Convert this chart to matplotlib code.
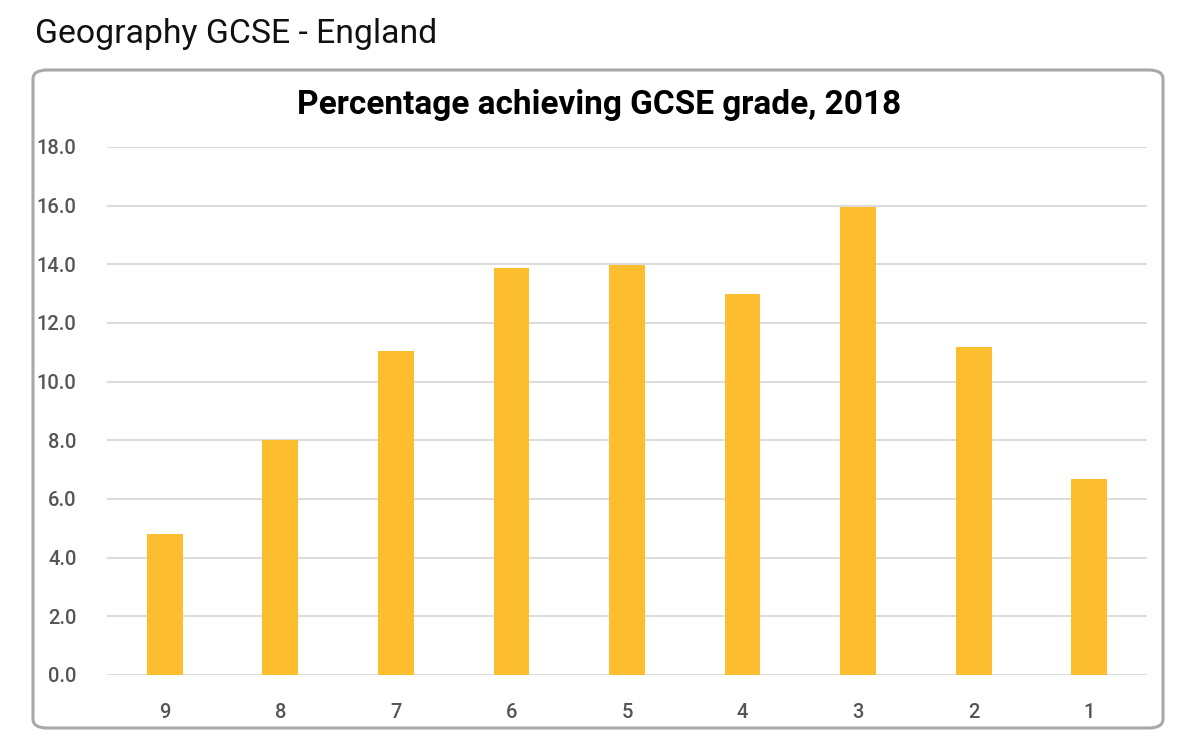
import matplotlib
matplotlib.use("Agg")
import matplotlib.pyplot as plt
from matplotlib.patches import FancyBboxPatch

grades = ["9", "8", "7", "6", "5", "4", "3", "2", "1"]
percentages = [4.8, 8.0, 11.05, 13.88, 13.98, 12.99, 15.96, 11.18, 6.68]
yticks = [0, 2, 4, 6, 8, 10, 12, 14, 16, 18]

plt.rcParams['font.family'] = ['Roboto', 'DejaVu Sans']

W, H = 1200, 747
fig = plt.figure(figsize=(W / 100, H / 100), dpi=100)
fig.patch.set_facecolor("white")

# rounded frame
frame = FancyBboxPatch((33 / W, 1 - 728 / H), (1163 - 33) / W, (728 - 70) / H,
                       boxstyle="round,pad=0,rounding_size=0.012",
                       transform=fig.transFigure, facecolor="none",
                       edgecolor="#a8a8a8", linewidth=2.2, zorder=0)
fig.patches.append(frame)

fig.text(35 / W, 1 - 34 / H, "Geography GCSE - England", fontsize=24.3,
         color="#111111", ha="left", va="center")
fig.text(599 / W, 1 - 105 / H, "Percentage achieving GCSE grade, 2018",
         fontsize=24, fontweight="bold", color="#000000", ha="center", va="center")

left, right = 107 / W, 1147 / W
bottom, top = 1 - 675 / H, 1 - 147 / H
ax = fig.add_axes([left, bottom, right - left, top - bottom])
ax.set_facecolor("none")
ax.set_zorder(2)

x = list(range(len(grades)))
ax.bar(x, percentages, width=0.31, color="#FCBE2E", zorder=3)

ax.set_xlim(-0.5, len(grades) - 0.5)
ax.set_ylim(0, 18)
ax.set_yticks(yticks)
ax.set_yticklabels([f"{v:.1f}" for v in yticks], fontweight="medium")
ax.set_xticks(x)
ax.set_xticklabels(grades, fontweight="medium")
ax.grid(axis="y", color="#d9d9d9", linewidth=1.3, zorder=0)
ax.set_axisbelow(True)
for s in ax.spines.values():
    s.set_visible(False)
ax.tick_params(axis="both", length=0, colors="#555555", labelsize=14.5)
ax.tick_params(axis="y", pad=22)
ax.tick_params(axis="x", pad=20)

fig.savefig("out.png", dpi=100, facecolor="white")
